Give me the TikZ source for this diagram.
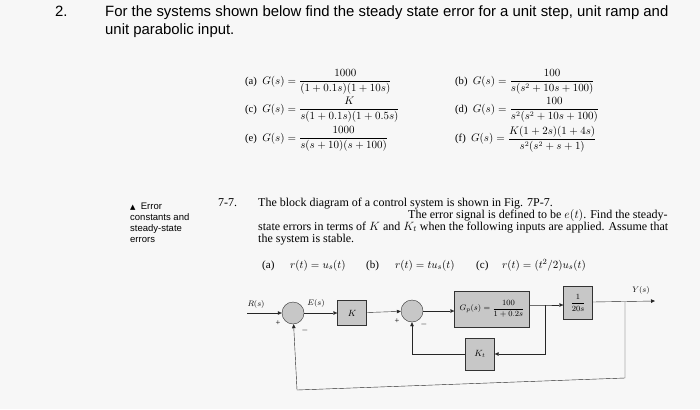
\documentclass[tikz,border=0pt]{standalone}
\usepackage{amsmath}
\usepackage{fontspec}
\setmainfont{Liberation Serif}
\setsansfont{Liberation Sans}
\newfontfamily\dejavu{DejaVu Sans}
\usetikzlibrary{arrows.meta}
\tikzset{
  blk/.style={draw=black!80, fill=black!22, minimum width=#1, inner sep=1pt},
  blk/.default=29pt,
  sumc/.style={circle, draw=black!80, fill=black!22, minimum size=22pt, inner sep=0pt},
  sig/.style={-{Triangle[length=4pt,width=3.5pt]}, draw=black!85},
  ttl/.style={font=\sffamily\fontsize{14.9}{17}\selectfont, anchor=base west, inner sep=0pt},
  frm/.style={font=\fontsize{10.6}{12}\selectfont, inner sep=0pt},
  bk/.style={font=\fontsize{12}{12}\selectfont, anchor=base west, inner sep=0pt},
  inp/.style={font=\fontsize{11}{12}\selectfont, anchor=base west, inner sep=0pt},
  side/.style={font=\sffamily\fontsize{9.5}{11}\selectfont, anchor=base west, inner sep=0pt},
  lbl/.style={font=\fontsize{8.5}{9}\selectfont, inner sep=1pt}
}
\begin{document}
\begin{tikzpicture}[x=1pt,y=-1pt]
\useasboundingbox[fill=black!3] (0,0) rectangle (700,409);
% title
\node[ttl] (num) at (55,17) {2.};
\node[ttl] (t1) at (105,17) {For the systems shown below find the steady state error for a unit step, unit ramp and};
\node[ttl] (t2) at (105,35) {unit parabolic input.};
% formulas
\node[frm, anchor=west] (fa) at (245,82) {(a)\enspace $G(s)=\dfrac{1000}{(1+0.1s)(1+10s)}$};
\node[frm, anchor=west] (fb) at (455,82) {(b)\enspace $G(s)=\dfrac{100}{s(s^2+10s+100)}$};
\node[frm, anchor=west] (fc) at (245,110) {(c)\enspace $G(s)=\dfrac{K}{s(1+0.1s)(1+0.5s)}$};
\node[frm, anchor=west] (fd) at (455,110) {(d)\enspace $G(s)=\dfrac{100}{s^2(s^2+10s+100)}$};
\node[frm, anchor=west] (fe) at (245,139) {(e)\enspace $G(s)=\dfrac{1000}{s(s+10)(s+100)}$};
\node[frm, anchor=west] (ff) at (455,139) {(f)\enspace $G(s)=\dfrac{K(1+2s)(1+4s)}{s^2(s^2+s+1)}$};
% side note
\node[side] (s_a) at (130,209) {{\dejavu\fontsize{7}{8}\selectfont ▲}\ \ Error};
\node[side] (s_b) at (130,220) {constants and};
\node[side] (s_c) at (130,231) {steady-state};
\node[side] (s_d) at (130,242) {errors};
\node[bk] (pn) at (218,206) {7-7.};
\node[bk] (p1) at (258,206) {The block diagram of a control system is shown in Fig. 7P-7.};
\node[bk] (p2) at (408,218) {The error signal is defined to be $e(t)$. Find the steady-};
\node[bk] (p3) at (258,230) {state errors in terms of $K$ and $K_t$ when the following inputs are applied. Assume that};
\node[bk] (p4) at (258,242) {the system is stable.};
\node[inp] (ia) at (262,268) {(a)};
\node[inp] (ra) at (290,268) {$r(t)=u_s(t)$};
\node[inp] (ib) at (366,268) {(b)};
\node[inp] (rb) at (395,268) {$r(t)=tu_s(t)$};
\node[inp] (ic) at (476,268) {(c)};
\node[inp] (rc) at (502,268) {$r(t)=(t^2/2)u_s(t)$};
% block diagram
\coordinate (rin) at (247,313);
\node[sumc] (s1) at (293,313) {};
\node[blk, minimum height=25pt] (k) at (352,313) {\fontsize{9}{10}\selectfont $K$};
\node[sumc] (s2) at (412,311) {};
\node[blk=75pt, minimum height=36pt] (gp) at (492,309) {\fontsize{8.5}{10}\selectfont $G_p(s)=\dfrac{100}{1+0.2s}$};
\node[blk, minimum height=33pt] (i) at (578,303) {\fontsize{8.5}{10}\selectfont $\dfrac{1}{20s}$};
\node[blk, minimum height=32pt] (kt) at (480,354) {\fontsize{9}{10}\selectfont $K_t$};
\coordinate (yout) at (655,301);
\coordinate (b1) at (545,305);
\coordinate (b2) at (625,302);
\draw[sig] (rin) -- (s1);
\draw[sig] (s1) -- (k);
\draw[sig] (k) -- (s2);
\draw[sig] (s2) -- (s2 -| gp.west);
\draw[sig] (gp.east |- b1) -- (b1) -- (b1 -| i.west);
\draw[sig] (i.east |- b2) -- (yout);
\draw[sig] (b1) -- (b1 |- kt) -- (kt);
\draw[sig] (kt) -- (kt -| s2) -- (s2);
\draw[sig] (b2) -- (625,378) -- (297,390) -- (s1);
\node[lbl] (rl) at (256,304) {$R(s)$};
\node[lbl] (el) at (316,303) {$E(s)$};
\node[lbl] (yl) at (641,290) {$Y(s)$};
\node[lbl] (p1s) at (278,323) {+};
\node[lbl] (m1s) at (305,330) {$-$};
\node[lbl] (p2s) at (397,321) {+};
\node[lbl] (m2s) at (424,324) {$-$};
\end{tikzpicture}
\end{document}
